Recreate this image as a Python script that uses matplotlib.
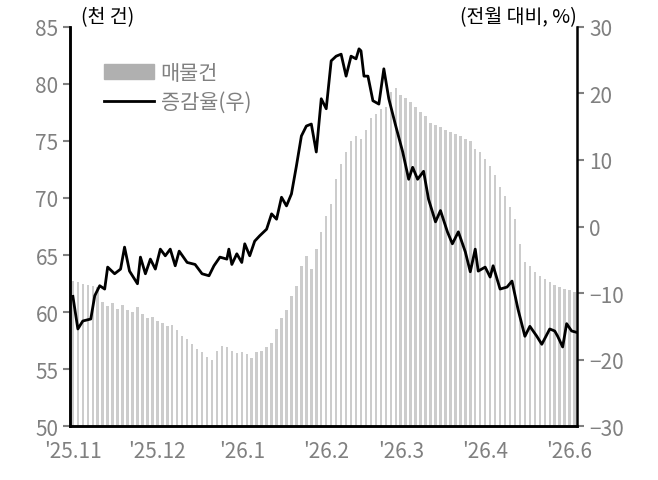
import matplotlib.pyplot as plt
import numpy as np

plt.rcParams['font.family'] = ['Noto Sans CJK KR', 'DejaVu Sans']

# 매물건 (천 건), read every ~5 px
bar_val = [62.7, 62.6, 62.5, 62.4, 62.3, 62.2,
           60.9, 60.5, 60.8, 60.3, 60.6, 60.2,
           60.0, 60.4, 59.8, 59.5, 59.6, 59.2,
           59.0, 58.8, 58.9, 58.4, 57.9, 57.6,
           57.2, 56.8, 56.5, 56.1, 55.8, 56.6,
           57.0, 56.9, 56.6, 56.4, 56.5, 56.3,
           56.0, 56.5, 56.6, 56.9, 57.3, 58.5,
           59.5, 60.2, 61.4, 62.3, 64.0, 64.9,
           63.8, 65.5, 67.0, 68.4, 69.5, 71.7,
           73.0, 74.0, 75.0, 75.4, 75.2, 76.0,
           77.0, 77.4, 77.8, 78.0, 79.3, 79.6,
           79.0, 78.8, 78.4, 78.0, 77.5, 77.2,
           76.6, 76.4, 76.2, 76.0, 75.8, 75.6,
           75.4, 75.2, 75.0, 74.3, 74.0, 73.4,
           72.8, 72.0, 71.0, 70.2, 69.2, 68.2,
           66.0, 64.4, 64.0, 63.5, 63.2, 62.9,
           62.6, 62.4, 62.2, 62.0, 61.9, 61.8]

# 증감율 (전월 대비, %) with positions in the same day units
line_pos = [0, 1, 2, 3.6, 4.4, 5.4, 6.4, 7, 8.4, 9.6, 10.4, 11.4, 13, 13.6, 14.6,
            15.6, 16.6, 17.6, 18.6, 19.6, 20.6, 21.4, 23, 24.6, 26, 27.4, 28.4,
            29.6, 31, 31.4, 32, 33, 34, 34.6, 35.6, 36.6, 37.6, 39, 40, 41, 42,
            43, 44, 45, 46, 47, 48, 49, 50, 51, 52, 53, 54, 55, 56, 57, 57.6,
            58, 58.6, 59.4, 60.4, 61.6, 62.6, 63.6, 65, 66.4, 67.6, 68.4, 69.4,
            70.6, 71.6, 73, 74, 75.4, 76.4, 77.6, 79, 80, 81, 81.6, 83, 84, 84.6,
            86, 87.4, 88.4, 89.6, 91, 92, 93.4, 94.4, 96, 97, 97.6, 98.6, 99.4,
            100.4, 101.4]
line_val = [-10.5, -15.4, -14.2, -13.9, -10.4, -8.9, -9.4, -6.1, -7.1, -6.4,
            -3.1, -6.7, -8.6, -4.6, -7.1, -4.9, -6.4, -3.4, -4.4, -3.4, -5.9,
            -3.7, -5.4, -5.7, -7.1, -7.4, -5.9, -4.6, -4.9, -3.4, -5.7, -4.1,
            -5.4, -2.6, -4.4, -2.2, -1.4, -0.4, 1.9, 1.1, 4.4, 3.1, 4.9, 9.1,
            13.6, 15.1, 15.4, 11.2, 19.2, 17.7, 24.9, 25.6, 25.9, 22.6, 25.6,
            25.2, 26.7, 26.4, 22.6, 22.6, 18.9, 18.4, 23.7, 19.2, 15.1, 11.2,
            7.1, 8.9, 7.1, 8.3, 4.1, 0.7, 2.4, -0.8, -2.6, -0.8, -3.8, -6.8,
            -3.4, -6.7, -6.1, -7.6, -5.9, -9.4, -9.1, -8.2, -12.4, -16.5, -15.0,
            -16.5, -17.7, -15.4, -15.7, -16.5, -18.1, -14.6, -15.7, -15.9]

tick_pos = [0, 17, 34, 51, 66, 83, 100]
tick_labels = ["'25.11", "'25.12", "'26.1", "'26.2", "'26.3", "'26.4", "'26.6"]

grey = '#808080'
fig, ax = plt.subplots(figsize=(6.58, 4.81), dpi=100)
fig.subplots_adjust(left=0.107, right=0.877, top=0.942, bottom=0.112)

x = np.arange(len(bar_val))
ax.bar(x, bar_val, width=0.5, color='#cccccc', label='매물건')
ax.set_ylim(50, 85)
ax.set_xlim(-0.5, 101.5)
ax.set_yticks(range(50, 86, 5))
ax2 = ax.twinx()
ax2.plot(line_pos, line_val, color='black', lw=2, label='증감율(우)')
ax2.set_ylim(-30, 30)
ax2.set_yticks(range(-30, 31, 10))

for a in (ax, ax2):
    a.spines['top'].set_visible(False)
    a.tick_params(labelsize=15, colors=grey, width=1.5, length=5)
    for s in a.spines.values():
        s.set_linewidth(1.8)
ax.spines['right'].set_visible(False)
ax.set_xticks(tick_pos)
ax.set_xticklabels(tick_labels)
ax.tick_params(axis='x', length=0, pad=10)

ax.text(0.02, 1.0, '(천 건)', transform=ax.transAxes, fontsize=14, va='bottom')
ax2.text(1.0, 1.0, '(전월 대비, %)', transform=ax2.transAxes, fontsize=14,
         va='bottom', ha='right')

h1, l1 = ax.get_legend_handles_labels()
h2, l2 = ax2.get_legend_handles_labels()
leg = ax.legend(h1 + h2, l1 + l2, loc='upper left', bbox_to_anchor=(0.03, 0.96),
                frameon=False, fontsize=15, handlelength=2.4, labelspacing=0.35,
                handletextpad=0.3)
for t in leg.get_texts():
    t.set_color(grey)
leg.legend_handles[0].set_color('#b0b0b0')

fig.savefig('out.png')
